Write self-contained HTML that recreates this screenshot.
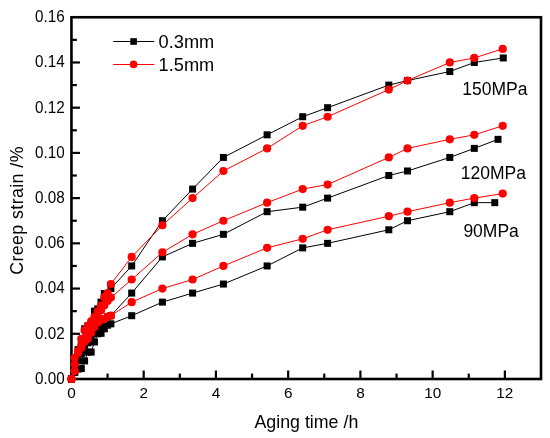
<!DOCTYPE html>
<html><head><meta charset="utf-8"><style>
html,body{margin:0;padding:0;background:#fff;}
body{width:550px;height:438px;overflow:hidden;}
svg{display:block;font-family:"Liberation Sans",Arial,sans-serif;}
</style></head><body>
<svg width="550" height="438" viewBox="0 0 550 438">
<rect width="550" height="438" fill="#fff"/>
<g fill="#000" font-size="15"><text x="71.45" y="398" text-anchor="middle" font-size="15.3">0</text><text x="143.69" y="398" text-anchor="middle" font-size="15.3">2</text><text x="215.93" y="398" text-anchor="middle" font-size="15.3">4</text><text x="288.17" y="398" text-anchor="middle" font-size="15.3">6</text><text x="360.40" y="398" text-anchor="middle" font-size="15.3">8</text><text x="432.64" y="398" text-anchor="middle" font-size="15.3">10</text><text x="504.88" y="398" text-anchor="middle" font-size="15.3">12</text><text x="64.6" y="383.90" text-anchor="end" font-size="16" textLength="29.6" lengthAdjust="spacingAndGlyphs">0.00</text><text x="64.6" y="338.68" text-anchor="end" font-size="16" textLength="29.6" lengthAdjust="spacingAndGlyphs">0.02</text><text x="64.6" y="293.46" text-anchor="end" font-size="16" textLength="29.6" lengthAdjust="spacingAndGlyphs">0.04</text><text x="64.6" y="248.24" text-anchor="end" font-size="16" textLength="29.6" lengthAdjust="spacingAndGlyphs">0.06</text><text x="64.6" y="203.03" text-anchor="end" font-size="16" textLength="29.6" lengthAdjust="spacingAndGlyphs">0.08</text><text x="64.6" y="157.81" text-anchor="end" font-size="16" textLength="29.6" lengthAdjust="spacingAndGlyphs">0.10</text><text x="64.6" y="112.59" text-anchor="end" font-size="16" textLength="29.6" lengthAdjust="spacingAndGlyphs">0.12</text><text x="64.6" y="67.37" text-anchor="end" font-size="16" textLength="29.6" lengthAdjust="spacingAndGlyphs">0.14</text><text x="64.6" y="22.15" text-anchor="end" font-size="16" textLength="29.6" lengthAdjust="spacingAndGlyphs">0.16</text></g>
<text transform="translate(22.6,210.7) rotate(-90)" text-anchor="middle" font-size="17.8" fill="#000" textLength="128.3" lengthAdjust="spacing">Creep strain /%</text>
<text x="306.4" y="428.3" text-anchor="middle" font-size="17.8" fill="#000">Aging time /h</text>
<g stroke="#000" stroke-width="2.2"><line x1="107.57" y1="379.0" x2="107.57" y2="373.6"/>
<line x1="143.69" y1="379.0" x2="143.69" y2="370.5"/>
<line x1="179.81" y1="379.0" x2="179.81" y2="373.6"/>
<line x1="215.93" y1="379.0" x2="215.93" y2="370.5"/>
<line x1="252.05" y1="379.0" x2="252.05" y2="373.6"/>
<line x1="288.17" y1="379.0" x2="288.17" y2="370.5"/>
<line x1="324.28" y1="379.0" x2="324.28" y2="373.6"/>
<line x1="360.40" y1="379.0" x2="360.40" y2="370.5"/>
<line x1="396.52" y1="379.0" x2="396.52" y2="373.6"/>
<line x1="432.64" y1="379.0" x2="432.64" y2="370.5"/>
<line x1="468.76" y1="379.0" x2="468.76" y2="373.6"/>
<line x1="504.88" y1="379.0" x2="504.88" y2="370.5"/>
<line x1="71.45" y1="356.39" x2="76.85000000000001" y2="356.39"/>
<line x1="71.45" y1="333.78" x2="79.95" y2="333.78"/>
<line x1="71.45" y1="311.17" x2="76.85000000000001" y2="311.17"/>
<line x1="71.45" y1="288.56" x2="79.95" y2="288.56"/>
<line x1="71.45" y1="265.95" x2="76.85000000000001" y2="265.95"/>
<line x1="71.45" y1="243.34" x2="79.95" y2="243.34"/>
<line x1="71.45" y1="220.73" x2="76.85000000000001" y2="220.73"/>
<line x1="71.45" y1="198.12" x2="79.95" y2="198.12"/>
<line x1="71.45" y1="175.52" x2="76.85000000000001" y2="175.52"/>
<line x1="71.45" y1="152.91" x2="79.95" y2="152.91"/>
<line x1="71.45" y1="130.30" x2="76.85000000000001" y2="130.30"/>
<line x1="71.45" y1="107.69" x2="79.95" y2="107.69"/>
<line x1="71.45" y1="85.08" x2="76.85000000000001" y2="85.08"/>
<line x1="71.45" y1="62.47" x2="79.95" y2="62.47"/>
<line x1="71.45" y1="39.86" x2="76.85000000000001" y2="39.86"/></g>
<rect x="71.45" y="17.25" width="469.55" height="361.75" fill="none" stroke="#000" stroke-width="2.6"/>
<polyline points="71.45,379.00 74.74,372.22 78.02,369.05 81.31,368.60 84.60,360.91 87.88,352.09 91.17,352.09 94.46,341.92 97.74,333.78 101.03,333.33 104.32,328.81 107.61,325.19 110.89,323.83 131.70,315.69 162.40,302.13 192.59,293.08 223.40,284.04 267.11,265.95 302.69,247.87 327.61,243.34 388.79,229.78 407.50,220.73 449.80,211.69 474.29,202.65 494.77,202.65" fill="none" stroke="#000" stroke-width="1"/>
<g fill="#000"><rect x="67.95" y="375.50" width="7.0" height="7.0"/><rect x="71.24" y="368.72" width="7.0" height="7.0"/><rect x="74.52" y="365.55" width="7.0" height="7.0"/><rect x="77.81" y="365.10" width="7.0" height="7.0"/><rect x="81.10" y="357.41" width="7.0" height="7.0"/><rect x="84.38" y="348.59" width="7.0" height="7.0"/><rect x="87.67" y="348.59" width="7.0" height="7.0"/><rect x="90.96" y="338.42" width="7.0" height="7.0"/><rect x="94.24" y="330.28" width="7.0" height="7.0"/><rect x="97.53" y="329.83" width="7.0" height="7.0"/><rect x="100.82" y="325.31" width="7.0" height="7.0"/><rect x="104.11" y="321.69" width="7.0" height="7.0"/><rect x="107.39" y="320.33" width="7.0" height="7.0"/><rect x="128.20" y="312.19" width="7.0" height="7.0"/><rect x="158.90" y="298.63" width="7.0" height="7.0"/><rect x="189.09" y="289.58" width="7.0" height="7.0"/><rect x="219.90" y="280.54" width="7.0" height="7.0"/><rect x="263.61" y="262.45" width="7.0" height="7.0"/><rect x="299.19" y="244.37" width="7.0" height="7.0"/><rect x="324.11" y="239.84" width="7.0" height="7.0"/><rect x="385.29" y="226.28" width="7.0" height="7.0"/><rect x="404.00" y="217.23" width="7.0" height="7.0"/><rect x="446.30" y="208.19" width="7.0" height="7.0"/><rect x="470.79" y="199.15" width="7.0" height="7.0"/><rect x="491.27" y="199.15" width="7.0" height="7.0"/></g>
<polyline points="71.45,379.00 74.74,372.22 78.02,360.91 81.31,354.13 84.60,348.48 87.88,342.82 91.17,336.04 94.46,331.52 97.74,327.00 101.03,322.48 104.32,319.09 107.61,316.82 110.89,315.69 131.70,293.08 162.40,256.91 192.59,243.34 223.40,234.30 267.11,211.69 302.69,207.17 327.61,198.12 388.79,175.52 407.50,170.99 449.80,157.43 474.29,148.38 498.02,139.34" fill="none" stroke="#000" stroke-width="1"/>
<g fill="#000"><rect x="67.95" y="375.50" width="7.0" height="7.0"/><rect x="71.24" y="368.72" width="7.0" height="7.0"/><rect x="74.52" y="357.41" width="7.0" height="7.0"/><rect x="77.81" y="350.63" width="7.0" height="7.0"/><rect x="81.10" y="344.98" width="7.0" height="7.0"/><rect x="84.38" y="339.32" width="7.0" height="7.0"/><rect x="87.67" y="332.54" width="7.0" height="7.0"/><rect x="90.96" y="328.02" width="7.0" height="7.0"/><rect x="94.24" y="323.50" width="7.0" height="7.0"/><rect x="97.53" y="318.98" width="7.0" height="7.0"/><rect x="100.82" y="315.59" width="7.0" height="7.0"/><rect x="104.11" y="313.32" width="7.0" height="7.0"/><rect x="107.39" y="312.19" width="7.0" height="7.0"/><rect x="128.20" y="289.58" width="7.0" height="7.0"/><rect x="158.90" y="253.41" width="7.0" height="7.0"/><rect x="189.09" y="239.84" width="7.0" height="7.0"/><rect x="219.90" y="230.80" width="7.0" height="7.0"/><rect x="263.61" y="208.19" width="7.0" height="7.0"/><rect x="299.19" y="203.67" width="7.0" height="7.0"/><rect x="324.11" y="194.62" width="7.0" height="7.0"/><rect x="385.29" y="172.02" width="7.0" height="7.0"/><rect x="404.00" y="167.49" width="7.0" height="7.0"/><rect x="446.30" y="153.93" width="7.0" height="7.0"/><rect x="470.79" y="144.88" width="7.0" height="7.0"/><rect x="494.52" y="135.84" width="7.0" height="7.0"/></g>
<polyline points="71.45,379.00 74.74,358.65 78.02,349.61 81.31,342.60 84.60,328.81 87.88,325.87 91.17,324.74 94.46,311.17 97.74,308.91 101.03,302.13 104.32,293.54 107.61,295.35 110.89,288.56 131.70,265.95 162.40,220.73 192.59,189.08 223.40,157.43 267.11,134.82 302.69,116.73 327.61,107.69 388.79,85.08 407.50,80.56 449.80,71.51 474.29,62.47 503.26,57.95" fill="none" stroke="#000" stroke-width="1"/>
<g fill="#000"><rect x="67.95" y="375.50" width="7.0" height="7.0"/><rect x="71.24" y="355.15" width="7.0" height="7.0"/><rect x="74.52" y="346.11" width="7.0" height="7.0"/><rect x="77.81" y="339.10" width="7.0" height="7.0"/><rect x="81.10" y="325.31" width="7.0" height="7.0"/><rect x="84.38" y="322.37" width="7.0" height="7.0"/><rect x="87.67" y="321.24" width="7.0" height="7.0"/><rect x="90.96" y="307.67" width="7.0" height="7.0"/><rect x="94.24" y="305.41" width="7.0" height="7.0"/><rect x="97.53" y="298.63" width="7.0" height="7.0"/><rect x="100.82" y="290.04" width="7.0" height="7.0"/><rect x="104.11" y="291.85" width="7.0" height="7.0"/><rect x="107.39" y="285.06" width="7.0" height="7.0"/><rect x="128.20" y="262.45" width="7.0" height="7.0"/><rect x="158.90" y="217.23" width="7.0" height="7.0"/><rect x="189.09" y="185.58" width="7.0" height="7.0"/><rect x="219.90" y="153.93" width="7.0" height="7.0"/><rect x="263.61" y="131.32" width="7.0" height="7.0"/><rect x="299.19" y="113.23" width="7.0" height="7.0"/><rect x="324.11" y="104.19" width="7.0" height="7.0"/><rect x="385.29" y="81.58" width="7.0" height="7.0"/><rect x="404.00" y="77.06" width="7.0" height="7.0"/><rect x="446.30" y="68.01" width="7.0" height="7.0"/><rect x="470.79" y="58.97" width="7.0" height="7.0"/><rect x="499.76" y="54.45" width="7.0" height="7.0"/></g>
<polyline points="71.45,379.00 74.74,371.09 78.02,353.00 81.31,347.80 84.60,341.69 87.88,338.76 91.17,332.65 94.46,327.00 97.74,322.48 101.03,319.99 104.32,319.09 107.61,316.82 110.89,315.69 131.70,302.13 162.40,288.56 192.59,279.52 223.40,265.95 267.11,247.87 302.69,238.82 327.61,229.78 388.79,216.21 407.50,211.69 449.80,202.65 474.29,198.12 502.71,193.60" fill="none" stroke="#f00" stroke-width="1"/>
<g fill="#f00"><circle cx="71.45" cy="379.00" r="4.1"/><circle cx="74.74" cy="371.09" r="4.1"/><circle cx="78.02" cy="353.00" r="4.1"/><circle cx="81.31" cy="347.80" r="4.1"/><circle cx="84.60" cy="341.69" r="4.1"/><circle cx="87.88" cy="338.76" r="4.1"/><circle cx="91.17" cy="332.65" r="4.1"/><circle cx="94.46" cy="327.00" r="4.1"/><circle cx="97.74" cy="322.48" r="4.1"/><circle cx="101.03" cy="319.99" r="4.1"/><circle cx="104.32" cy="319.09" r="4.1"/><circle cx="107.61" cy="316.82" r="4.1"/><circle cx="110.89" cy="315.69" r="4.1"/><circle cx="131.70" cy="302.13" r="4.1"/><circle cx="162.40" cy="288.56" r="4.1"/><circle cx="192.59" cy="279.52" r="4.1"/><circle cx="223.40" cy="265.95" r="4.1"/><circle cx="267.11" cy="247.87" r="4.1"/><circle cx="302.69" cy="238.82" r="4.1"/><circle cx="327.61" cy="229.78" r="4.1"/><circle cx="388.79" cy="216.21" r="4.1"/><circle cx="407.50" cy="211.69" r="4.1"/><circle cx="449.80" cy="202.65" r="4.1"/><circle cx="474.29" cy="198.12" r="4.1"/><circle cx="502.71" cy="193.60" r="4.1"/></g>
<polyline points="71.45,379.00 74.74,364.53 78.02,351.87 81.31,345.54 84.60,339.43 87.88,333.78 91.17,328.13 94.46,322.48 97.74,316.82 101.03,310.49 104.32,305.52 107.61,301.00 110.89,297.61 131.70,279.52 162.40,252.39 192.59,234.30 223.40,220.73 267.11,202.65 302.69,189.08 327.61,184.56 388.79,157.43 407.50,148.38 449.80,139.34 474.29,134.82 502.71,125.78" fill="none" stroke="#f00" stroke-width="1"/>
<g fill="#f00"><circle cx="71.45" cy="379.00" r="4.1"/><circle cx="74.74" cy="364.53" r="4.1"/><circle cx="78.02" cy="351.87" r="4.1"/><circle cx="81.31" cy="345.54" r="4.1"/><circle cx="84.60" cy="339.43" r="4.1"/><circle cx="87.88" cy="333.78" r="4.1"/><circle cx="91.17" cy="328.13" r="4.1"/><circle cx="94.46" cy="322.48" r="4.1"/><circle cx="97.74" cy="316.82" r="4.1"/><circle cx="101.03" cy="310.49" r="4.1"/><circle cx="104.32" cy="305.52" r="4.1"/><circle cx="107.61" cy="301.00" r="4.1"/><circle cx="110.89" cy="297.61" r="4.1"/><circle cx="131.70" cy="279.52" r="4.1"/><circle cx="162.40" cy="252.39" r="4.1"/><circle cx="192.59" cy="234.30" r="4.1"/><circle cx="223.40" cy="220.73" r="4.1"/><circle cx="267.11" cy="202.65" r="4.1"/><circle cx="302.69" cy="189.08" r="4.1"/><circle cx="327.61" cy="184.56" r="4.1"/><circle cx="388.79" cy="157.43" r="4.1"/><circle cx="407.50" cy="148.38" r="4.1"/><circle cx="449.80" cy="139.34" r="4.1"/><circle cx="474.29" cy="134.82" r="4.1"/><circle cx="502.71" cy="125.78" r="4.1"/></g>
<polyline points="71.45,379.00 74.74,357.97 78.02,351.42 81.31,338.76 84.60,330.39 87.88,325.87 91.17,321.35 94.46,316.82 97.74,311.40 101.03,305.52 104.32,297.15 107.61,293.08 110.89,284.04 131.70,256.91 162.40,225.26 192.59,198.12 223.40,170.99 267.11,148.38 302.69,125.78 327.61,116.73 388.79,89.60 407.50,80.56 449.80,62.47 474.29,57.95 502.71,48.90" fill="none" stroke="#f00" stroke-width="1"/>
<g fill="#f00"><circle cx="71.45" cy="379.00" r="4.1"/><circle cx="74.74" cy="357.97" r="4.1"/><circle cx="78.02" cy="351.42" r="4.1"/><circle cx="81.31" cy="338.76" r="4.1"/><circle cx="84.60" cy="330.39" r="4.1"/><circle cx="87.88" cy="325.87" r="4.1"/><circle cx="91.17" cy="321.35" r="4.1"/><circle cx="94.46" cy="316.82" r="4.1"/><circle cx="97.74" cy="311.40" r="4.1"/><circle cx="101.03" cy="305.52" r="4.1"/><circle cx="104.32" cy="297.15" r="4.1"/><circle cx="107.61" cy="293.08" r="4.1"/><circle cx="110.89" cy="284.04" r="4.1"/><circle cx="131.70" cy="256.91" r="4.1"/><circle cx="162.40" cy="225.26" r="4.1"/><circle cx="192.59" cy="198.12" r="4.1"/><circle cx="223.40" cy="170.99" r="4.1"/><circle cx="267.11" cy="148.38" r="4.1"/><circle cx="302.69" cy="125.78" r="4.1"/><circle cx="327.61" cy="116.73" r="4.1"/><circle cx="388.79" cy="89.60" r="4.1"/><circle cx="407.50" cy="80.56" r="4.1"/><circle cx="449.80" cy="62.47" r="4.1"/><circle cx="474.29" cy="57.95" r="4.1"/><circle cx="502.71" cy="48.90" r="4.1"/></g>
<g font-size="17.5" fill="#000">
<text x="462.3" y="94.5">150MPa</text>
<text x="460.8" y="178.9">120MPa</text>
<text x="463.4" y="237.2">90MPa</text>
</g>
<line x1="113.2" y1="41.5" x2="154.2" y2="41.5" stroke="#000" stroke-width="1"/>
<rect x="130.3" y="38.2" width="6.6" height="6.6" fill="#000"/>
<line x1="113.2" y1="64.5" x2="154.2" y2="64.5" stroke="#f00" stroke-width="1"/>
<circle cx="133.6" cy="64.4" r="3.8" fill="#f00"/>
<g font-size="18.2" fill="#000">
<text x="158.6" y="47.6">0.3mm</text>
<text x="158.6" y="70.6">1.5mm</text>
</g>
</svg>
</body></html>
